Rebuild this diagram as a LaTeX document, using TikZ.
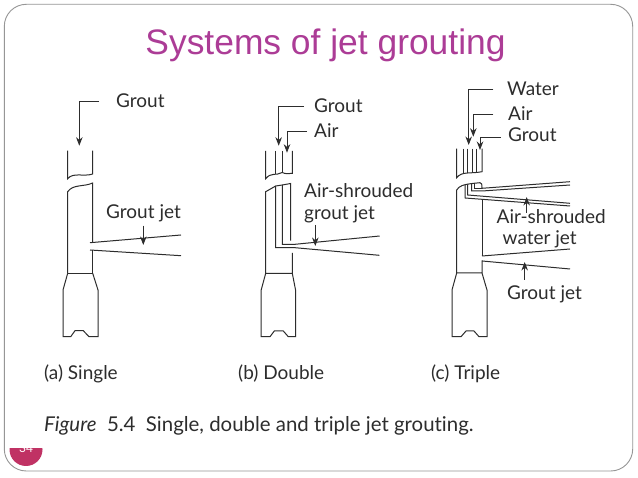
\documentclass[tikz,border=0pt]{standalone}
\usepackage{fontspec}
\setmainfont[Ligatures=NoCommon]{Lato}
\newfontfamily\titlefont{Liberation Sans}
\usetikzlibrary{arrows.meta}
\definecolor{framegray}{RGB}{150,150,150}
\definecolor{titlepurple}{RGB}{172,60,150}
\definecolor{badge}{RGB}{192,50,100}
\definecolor{inkc}{RGB}{45,45,45}
\tikzset{
  pipe/.style={draw=inkc,line width=1pt,line join=miter},
  lead/.style={draw=inkc,line width=0.9pt,-{Stealth[length=8.5pt,width=6.5pt]}},
  lbl/.style={inner sep=0pt,text=inkc,text height=13.5pt,text depth=0pt,font=\fontsize{19}{20}\selectfont,anchor=west},
}
\begin{document}
\begin{tikzpicture}[x=1pt,y=-1pt]
\useasboundingbox (0,0) rectangle (638,478);
\fill[white] (0,0) rectangle (638,478);
\begin{scope}
\clip (0,448.5) rectangle (100,478);
\fill[badge] (26,449.5) circle (16.5);
\node[inner sep=0pt,text=white,font=\fontsize{12}{14}\selectfont] (num) at (26,448) {34};
\end{scope}
\draw[framegray,line width=0.9pt,rounded corners=22pt] (4.3,4.3) rectangle (632.7,471);
\node[inner sep=0pt,text=titlepurple,font=\titlefont\fontsize{35.4}{40}\selectfont] (title) at (325.5,45) {Systems of jet grouting};
% (a)
\node[lbl] (ga) at (116,101) {Grout};
\node[lbl] (gja) at (106,212) {Grout jet};
\coordinate (a1) at (79.3,145.7);
\coordinate (a2) at (143.3,245);
\coordinate (a2t) at (143.3,225.7);
\draw[lead] ([xshift=-17pt]ga.west) -| (a1);
\draw[lead] (a2t) -- (a2);
\draw[pipe] (67.7,150.7) -- (67.7,178.7) .. controls (73,172) and (84,177) .. (92.7,174) -- (92.7,150.7);
\draw[pipe] (67.7,273.3) -- (67.7,191.7) .. controls (73,184) and (84,187) .. (92.7,183) -- (92.7,242.3);
\draw[pipe] (92.7,250) -- (92.7,273.3) -- (67.7,273.3);
\draw[pipe] (90,242.7) -- (181,235);
\draw[pipe] (90,250) -- (181,255.7);
\draw[pipe] (67.7,273.3) -- (63,290) -- (63,336.7) -- (70.7,336.7) -- (75,330.7) -- (83.3,330.7) -- (89,336.7) -- (98,336.7) -- (98,290) -- (92.7,273.3);
\node[lbl] (sa) at (44,373) {(a) Single};
% (b)
\node[lbl] (gb) at (314,106) {Grout};
\node[lbl] (ab) at (314,131) {Air};
\node[lbl] (jb1) at (304,191) {Air-shrouded};
\node[lbl] (jb2) at (304,213) {grout jet};
\coordinate (b1) at (278.7,145.7);
\coordinate (b2) at (287,152.7);
\coordinate (b3t) at (315.3,225);
\coordinate (b3) at (315.3,246);
\draw[lead] ([xshift=-10pt]gb.west) -| (b1);
\draw[lead] ([xshift=-7pt]ab.west) -| (b2);
\draw[lead] (b3t) -- (b3);
\draw[pipe] (265.7,151) -- (265.7,178.7) .. controls (271,172) and (276,176) .. (282.3,172.5) .. controls (285,174) and (289,174) .. (292.3,173.3) -- (292.3,151);
\draw[pipe] (275.7,151) -- (275.7,174);
\draw[pipe] (282.3,151) -- (282.3,172.5);
\draw[pipe] (292.3,253) -- (292.3,273.3) -- (265.7,273.3) -- (265.7,191.7) -- (275.7,186) -- (282.3,185) -- (285,184.5) -- (290.7,183.5) -- (290.7,240.7);
\draw[pipe] (275.7,186) -- (275.7,247.7) -- (295,247.7) -- (379.3,255.3);
\draw[pipe] (282.3,185) -- (282.3,244.3) -- (295,244.3) -- (379.7,236);
\draw[pipe] (265.7,273.3) -- (261,290.7) -- (261,336.7) -- (270,336.7) -- (274.3,331) -- (283.3,331) -- (288.3,336.7) -- (295.7,336.7) -- (295.7,290.7) -- (292.3,273.3);
\node[lbl] (sb) at (238,373) {(b) Double};
% (c)
\node[lbl] (wc) at (507,89) {Water};
\node[lbl] (ac) at (508,114) {Air};
\node[lbl] (gc) at (508,135) {Grout};
\node[lbl] (jc1) at (496.5,217) {Air-shrouded};
\node[lbl] (jc2) at (502.5,238) {water jet};
\node[lbl] (gjc) at (507,293) {Grout jet};
\coordinate (c1) at (468.7,145);
\coordinate (c2) at (473.3,136.7);
\coordinate (c3) at (480,150);
\coordinate (c4t) at (526.7,213);
\coordinate (c4) at (526.7,197);
\coordinate (c5t) at (524.7,280);
\coordinate (c5) at (524.7,262);
\draw[lead] ([xshift=-13.7pt]wc.west) -| (c1);
\draw[lead] ([xshift=-14.7pt]ac.west) -| (c2);
\draw[lead] ([xshift=-7.3pt,yshift=-2.3pt]gc.west) -| (c3);
\draw[lead] (c4t) -- (c4);
\draw[lead] (c5t) -- (c5);
\draw[pipe] (456.7,148.7) -- (456.7,177.7) .. controls (462,171) and (470,174) .. (482,171.7) -- (482,148.7);
\foreach \xx in {463,467,472,476}{\draw[pipe] (\xx,148.7) -- (\xx,173);}
\draw[pipe] (482,260.5) -- (482,273) -- (456.7,273) -- (456.7,190) .. controls (459,186) and (463,184.5) .. (474,183.3) -- (480,182.7) -- (481.7,184) -- (482,188.3) -- (570,181.7);
\draw[pipe] (474.3,183.3) -- (474.3,188.3) -- (482,188.3);
\draw[pipe] (471.7,184) -- (471.7,191) -- (482,191) -- (570,185);
\draw[pipe] (467.7,184.5) -- (467.7,195) -- (570,203.3);
\draw[pipe] (465,185) -- (465,198) -- (570,206);
\draw[pipe] (482,199) -- (482,256);
\draw[pipe] (482,256) -- (570,249);
\draw[pipe] (482,261) -- (570,269);
\draw[pipe] (456.7,273) -- (452,290) -- (452,336.7) -- (461,336.7) -- (466,331) -- (474,331) -- (479,336.7) -- (487,336.7) -- (487,290) -- (482,273);
\node[lbl] (sc) at (431,373) {(c) Triple};
% caption
\node[inner sep=0pt,text=inkc,font=\fontsize{20.4}{22}\selectfont,anchor=west] (cap) at (44,426) {\textit{Figure}\ \ 5.4\ \ Single, double and triple jet grouting.};
\end{tikzpicture}
\end{document}
